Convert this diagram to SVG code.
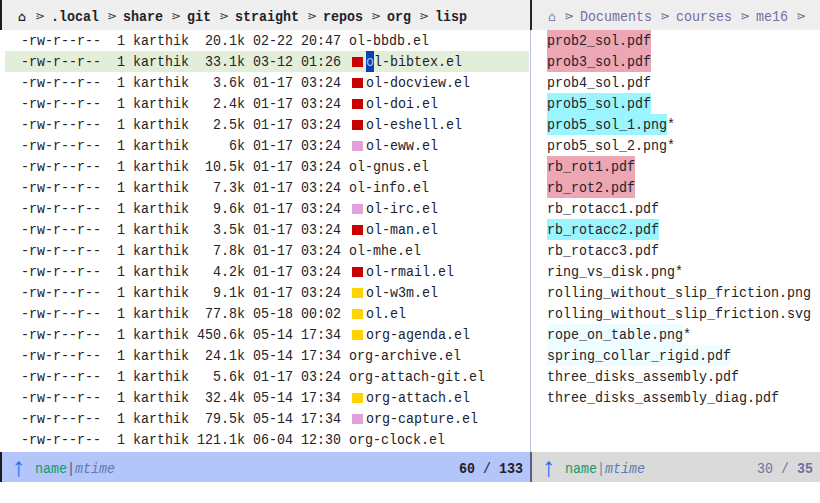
<svg xmlns="http://www.w3.org/2000/svg" width="820" height="503" viewBox="0 0 820 503">
<style>
text{font-family:"Liberation Mono","DejaVu Sans Mono",monospace;font-size:15px;white-space:pre;fill:#22222a}
.b{font-weight:bold}
.h{fill:#7470a0}
.sep{font-family:"DejaVu Sans Mono",monospace;font-size:12px;fill:#3a3a44}
.seph{font-family:"DejaVu Sans Mono",monospace;font-size:12px;fill:#6e6a90}
.ico{font-family:"DejaVu Sans Mono",monospace;font-size:13px}
.g{fill:#0f9a6a}
.ar{fill:#1f6fff;font-size:27px;font-family:"Liberation Sans",sans-serif}
.i{font-style:italic;fill:#5f78b4}
.r{fill:#c80000}.p{fill:#e0a2d8}.y{fill:#ffd400}
.pk{fill:#eda6b4}.cy{fill:#9af5ff}.pl{fill:#eefdff}
</style>
<rect width="820" height="503" fill="#fff"/>
<g id="panes">
<rect x="0" y="0" width="530" height="30" fill="#efefef"/>
<rect x="0" y="0" width="2" height="30" fill="#1c1c1c"/>
<rect x="532" y="0" width="288" height="30" fill="#eeeeee"/>
<rect x="530" y="0" width="2" height="30" fill="#242424"/>
<rect x="530" y="30" width="1" height="422" fill="#bcbfe2"/>
<rect x="0" y="452" width="530" height="30" fill="#b4c5fa"/>
<rect x="0" y="452" width="2" height="30" fill="#1c1c1c"/>
<rect x="530" y="452" width="2" height="30" fill="#5f5a80"/>
<rect x="532" y="452" width="288" height="30" fill="#dadada"/>
</g>
<g id="left-header">
<text class="ico b" x="18" y="21">⌂</text>
<text class="sep" x="35" y="20">⋗</text>
<text class="sep" x="107" y="20">⋗</text>
<text class="sep" x="171" y="20">⋗</text>
<text class="sep" x="219" y="20">⋗</text>
<text class="sep" x="307" y="20">⋗</text>
<text class="sep" x="371" y="20">⋗</text>
<text class="sep" x="419" y="20">⋗</text>
<g class="b" transform="scale(.88889 1)">
<text class="b" x="57.375" y="21">.local</text>
<text class="b" x="138.375" y="21">share</text>
<text class="b" x="210.375" y="21">git</text>
<text class="b" x="264.375" y="21">straight</text>
<text class="b" x="363.375" y="21">repos</text>
<text class="b" x="435.375" y="21">org</text>
<text class="b" x="489.375" y="21">lisp</text>
</g>
</g>
<g id="right-header">
<text class="ico h" x="548" y="21">⌂</text>
<text class="seph" x="564" y="20">⋗</text>
<text class="seph" x="660" y="20">⋗</text>
<text class="seph" x="740" y="20">⋗</text>
<text class="seph" x="796" y="20">⋗</text>
<g transform="scale(.88889 1)">
<text class="h" x="652.5" y="21">Documents</text>
<text class="h" x="760.5" y="21">courses</text>
<text class="h" x="850.5" y="21">me16</text>
</g>
</g>
<g id="left-list">
<rect x="5" y="51" width="524" height="21" fill="#e3eed8"/>
<rect class="r" x="352" y="57" width="11" height="10"/>
<rect class="r" x="352" y="78" width="11" height="10"/>
<rect class="r" x="352" y="99" width="11" height="10"/>
<rect class="r" x="352" y="120" width="11" height="10"/>
<rect class="p" x="352" y="141" width="11" height="10"/>
<rect class="p" x="352" y="204" width="11" height="10"/>
<rect class="r" x="352" y="225" width="11" height="10"/>
<rect class="r" x="352" y="267" width="11" height="10"/>
<rect class="y" x="352" y="288" width="11" height="10"/>
<rect class="y" x="352" y="309" width="11" height="10"/>
<rect class="y" x="352" y="330" width="11" height="10"/>
<rect class="y" x="352" y="393" width="11" height="10"/>
<rect class="p" x="352" y="414" width="11" height="10"/>
<rect x="366" y="51" width="8" height="21" fill="#0a3fb5"/>
<g transform="scale(.88889 1)">
<text x="23.625" y="45">-rw-r--r--  1 karthik  20.1k 02-22 20:47</text>
<text x="392.625" y="45">ol-bbdb.el</text>
<text x="23.625" y="66">-rw-r--r--  1 karthik  33.1k 03-12 01:26</text>
<text x="411.75" y="66"><tspan style="fill:#9fc0ff">o</tspan>l-bibtex.el</text>
<text x="23.625" y="87">-rw-r--r--  1 karthik   3.6k 01-17 03:24</text>
<text x="411.75" y="87">ol-docview.el</text>
<text x="23.625" y="108">-rw-r--r--  1 karthik   2.4k 01-17 03:24</text>
<text x="411.75" y="108">ol-doi.el</text>
<text x="23.625" y="129">-rw-r--r--  1 karthik   2.5k 01-17 03:24</text>
<text x="411.75" y="129">ol-eshell.el</text>
<text x="23.625" y="150">-rw-r--r--  1 karthik     6k 01-17 03:24</text>
<text x="411.75" y="150">ol-eww.el</text>
<text x="23.625" y="171">-rw-r--r--  1 karthik  10.5k 01-17 03:24</text>
<text x="392.625" y="171">ol-gnus.el</text>
<text x="23.625" y="192">-rw-r--r--  1 karthik   7.3k 01-17 03:24</text>
<text x="392.625" y="192">ol-info.el</text>
<text x="23.625" y="213">-rw-r--r--  1 karthik   9.6k 01-17 03:24</text>
<text x="411.75" y="213">ol-irc.el</text>
<text x="23.625" y="234">-rw-r--r--  1 karthik   3.5k 01-17 03:24</text>
<text x="411.75" y="234">ol-man.el</text>
<text x="23.625" y="255">-rw-r--r--  1 karthik   7.8k 01-17 03:24</text>
<text x="392.625" y="255">ol-mhe.el</text>
<text x="23.625" y="276">-rw-r--r--  1 karthik   4.2k 01-17 03:24</text>
<text x="411.75" y="276">ol-rmail.el</text>
<text x="23.625" y="297">-rw-r--r--  1 karthik   9.1k 01-17 03:24</text>
<text x="411.75" y="297">ol-w3m.el</text>
<text x="23.625" y="318">-rw-r--r--  1 karthik  77.8k 05-18 00:02</text>
<text x="411.75" y="318">ol.el</text>
<text x="23.625" y="339">-rw-r--r--  1 karthik 450.6k 05-14 17:34</text>
<text x="411.75" y="339">org-agenda.el</text>
<text x="23.625" y="360">-rw-r--r--  1 karthik  24.1k 05-14 17:34</text>
<text x="392.625" y="360">org-archive.el</text>
<text x="23.625" y="381">-rw-r--r--  1 karthik   5.6k 01-17 03:24</text>
<text x="392.625" y="381">org-attach-git.el</text>
<text x="23.625" y="402">-rw-r--r--  1 karthik  32.4k 05-14 17:34</text>
<text x="411.75" y="402">org-attach.el</text>
<text x="23.625" y="423">-rw-r--r--  1 karthik  79.5k 05-14 17:34</text>
<text x="411.75" y="423">org-capture.el</text>
<text x="23.625" y="444">-rw-r--r--  1 karthik 121.1k 06-04 12:30</text>
<text x="392.625" y="444">org-clock.el</text>
</g>
</g>
<g id="right-list">
<rect class="pk" x="547" y="30" width="104" height="42"/>
<rect class="cy" x="547" y="93" width="104" height="21"/>
<rect class="cy" x="547" y="114" width="120" height="21"/>
<rect class="pk" x="547" y="156" width="88" height="42"/>
<rect class="cy" x="547" y="219" width="112" height="21"/>
<rect class="pl" x="547" y="324" width="136" height="21"/>
<rect class="pl" x="547" y="345" width="184" height="21"/>
<g transform="scale(.88889 1)">
<text x="615.375" y="45">prob2_sol.pdf</text>
<text x="615.375" y="66">prob3_sol.pdf</text>
<text x="615.375" y="87">prob4_sol.pdf</text>
<text x="615.375" y="108">prob5_sol.pdf</text>
<text x="615.375" y="129">prob5_sol_1.png*</text>
<text x="615.375" y="150">prob5_sol_2.png*</text>
<text x="615.375" y="171">rb_rot1.pdf</text>
<text x="615.375" y="192">rb_rot2.pdf</text>
<text x="615.375" y="213">rb_rotacc1.pdf</text>
<text x="615.375" y="234">rb_rotacc2.pdf</text>
<text x="615.375" y="255">rb_rotacc3.pdf</text>
<text x="615.375" y="276">ring_vs_disk.png*</text>
<text x="615.375" y="297">rolling_without_slip_friction.png</text>
<text x="615.375" y="318">rolling_without_slip_friction.svg</text>
<text x="615.375" y="339">rope_on_table.png*</text>
<text x="615.375" y="360">spring_collar_rigid.pdf</text>
<text x="615.375" y="381">three_disks_assembly.pdf</text>
<text x="615.375" y="402">three_disks_assembly_diag.pdf</text>
</g>
</g>
<g id="left-status">
<text class="ar" x="12" y="476">↑</text>
<g transform="scale(.88889 1)">
<text x="39.375" y="473"><tspan class="g">name</tspan><tspan style="fill:#3e5a78">|</tspan><tspan class="i">mtime</tspan></text>
<text x="516.375" y="473"><tspan class="b">60</tspan> / <tspan class="b">133</tspan></text>
</g>
</g>
<g id="right-status">
<text class="ar" x="542" y="476">↑</text>
<g transform="scale(.88889 1)">
<text x="635.625" y="473"><tspan class="g">name</tspan><tspan style="fill:#6f8aa0">|</tspan><tspan class="i">mtime</tspan></text>
<text class="h" x="851.625" y="473">30 / <tspan class="b h">35</tspan></text>
</g>
</g>
</svg>
